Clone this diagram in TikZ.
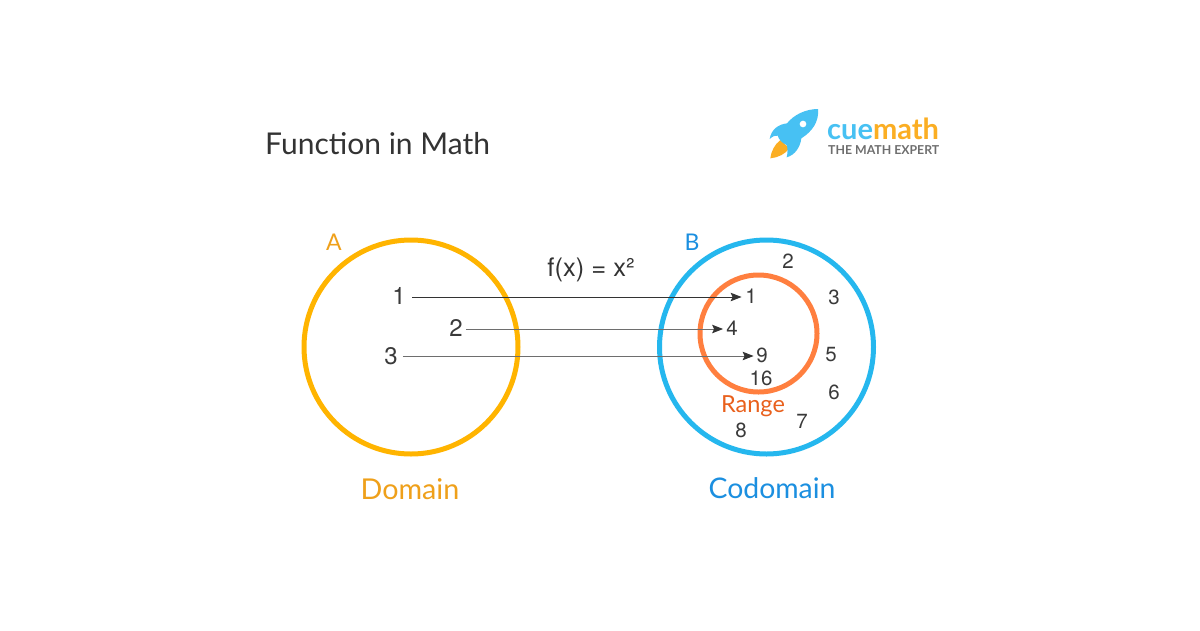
\documentclass[tikz,border=0pt]{standalone}
\usepackage{fontspec}
\setmainfont{Lato}
\newfontfamily\numfont{TeX Gyre Heros}
\usetikzlibrary{arrows.meta}
\definecolor{ctitle}{HTML}{333333}
\definecolor{cnum}{HTML}{3A3A3A}
\definecolor{cyellow}{HTML}{FFB400}
\definecolor{cblue}{HTML}{25B7EE}
\definecolor{corange}{HTML}{FF7F3F}
\definecolor{ldomain}{HTML}{EFA01A}
\definecolor{lcod}{HTML}{1B8FE0}
\definecolor{lrange}{HTML}{E9601C}
\definecolor{rocket}{HTML}{47C1F3}
\definecolor{flame}{HTML}{FBAE23}
\definecolor{cgrey}{HTML}{6E6E6E}
\tikzset{
  ring/.style={draw=#1,line width=5pt,circle,inner sep=0pt,fill=none},
  lefnum/.style={font=\numfont\fontsize{24}{24}\selectfont,text=cnum,inner ysep=0pt,text height=15pt,text depth=0pt,anchor=center},
  rightnum/.style={font=\numfont\fontsize{20.5}{21}\selectfont,text=cnum,inner sep=0pt,anchor=center},
  mapsto/.style={draw=#1,line width=1pt,-{Stealth[length=11pt,width=8.5pt,inset=2pt,color=ctitle]}}
}
\begin{document}
\begin{tikzpicture}[x=1pt,y=-1pt]
\useasboundingbox (0,0) rectangle (1200,630);
\fill[white] (0,0) rectangle (1200,630);
\node[anchor=west,inner sep=0pt,text=ctitle,font=\fontsize{30}{31}\selectfont] (title) at (265,143.5) {Function in Math};
% logo
\begin{scope}[shift={(762,105)},scale=0.3333]
\fill[flame] (25,160) .. controls (27,140) and (38,118) .. (55,105) -- (82,130) .. controls (70,147) and (48,158) .. (25,160) -- cycle;
\fill[rocket] (168,12) .. controls (130,12) and (95,30) .. (75,55)
  .. controls (50,58) and (28,72) .. (23,102) .. controls (32,94) and (40,90) .. (47,92)
  .. controls (50,102) and (60,115) .. (74,120) .. controls (77,130) and (78,142) .. (74,157)
  .. controls (100,150) and (115,125) .. (118,100) .. controls (150,80) and (172,50) .. (168,12) -- cycle;
\fill[white] (123,57) circle (10);
\end{scope}
\node[anchor=west,inner sep=0pt,font=\fontsize{29}{30}\selectfont\bfseries] (cue) at (827,128.5) {\textcolor{rocket}{cue}\textcolor{flame}{math}};
\node[anchor=west,inner sep=0pt,text=cgrey,font=\fontsize{12.3}{13}\selectfont\bfseries] (expert) at (828,150.5) {THE MATH EXPERT};
% circles
\node[ring=cyellow,minimum size=214pt] (A) at (411,347) {};
\node[ring=cblue,minimum size=214pt] (B) at (766.5,347) {};
\node[ring=corange,minimum size=117pt] (R) at (758.5,333.5) {};
% labels
\node[text=ldomain,font=\fontsize{23}{24}\selectfont] (la) at (334,242) {A};
\node[text=lcod,font=\fontsize{23}{24}\selectfont] (lb) at (692,242) {B};
\node[text=ldomain,font=\fontsize{28.7}{29}\selectfont] (dom) at (410,489) {Domain};
\node[text=lcod,font=\fontsize{28.4}{29}\selectfont] (cod) at (772,488) {Codomain};
\node[text=lrange,font=\fontsize{23.5}{24}\selectfont] (rng) at (753,406) {Range};
\node[text=ctitle,font=\numfont\fontsize{25.5}{26}\selectfont] (fx) at (591,270) {f(x) = x²};
% domain numbers
\node[lefnum,inner xsep=6.5pt] (a1) at (399,297) {1};
\node[lefnum,inner xsep=3.5pt] (a2) at (456,329) {2};
\node[lefnum,inner xsep=5pt,text height=17pt] (a3) at (391,356) {3};
% range numbers
\node[rightnum,inner xsep=3.5pt,text height=12.5pt] (b1) at (751,297) {1};
\node[rightnum,inner xsep=3pt,text height=12.5pt] (b4) at (732,329) {4};
\node[rightnum,inner xsep=2.5pt,text height=12.5pt] (b9) at (762,356) {9};
\node[rightnum] (b16) at (761,378) {16};
\node[rightnum] (b2) at (788,261.5) {2};
\node[rightnum] (b3) at (834,297) {3};
\node[rightnum] (b5) at (831,355) {5};
\node[rightnum] (b6) at (834,392) {6};
\node[rightnum] (b7) at (802,421) {7};
\node[rightnum] (b8) at (741,430) {8};
% arrows
\draw[mapsto=ctitle] (a1) -- (b1);
\draw[mapsto=cgrey] (a2) -- (b4);
\draw[mapsto=cgrey] (a3) -- (b9);
\end{tikzpicture}
\end{document}
